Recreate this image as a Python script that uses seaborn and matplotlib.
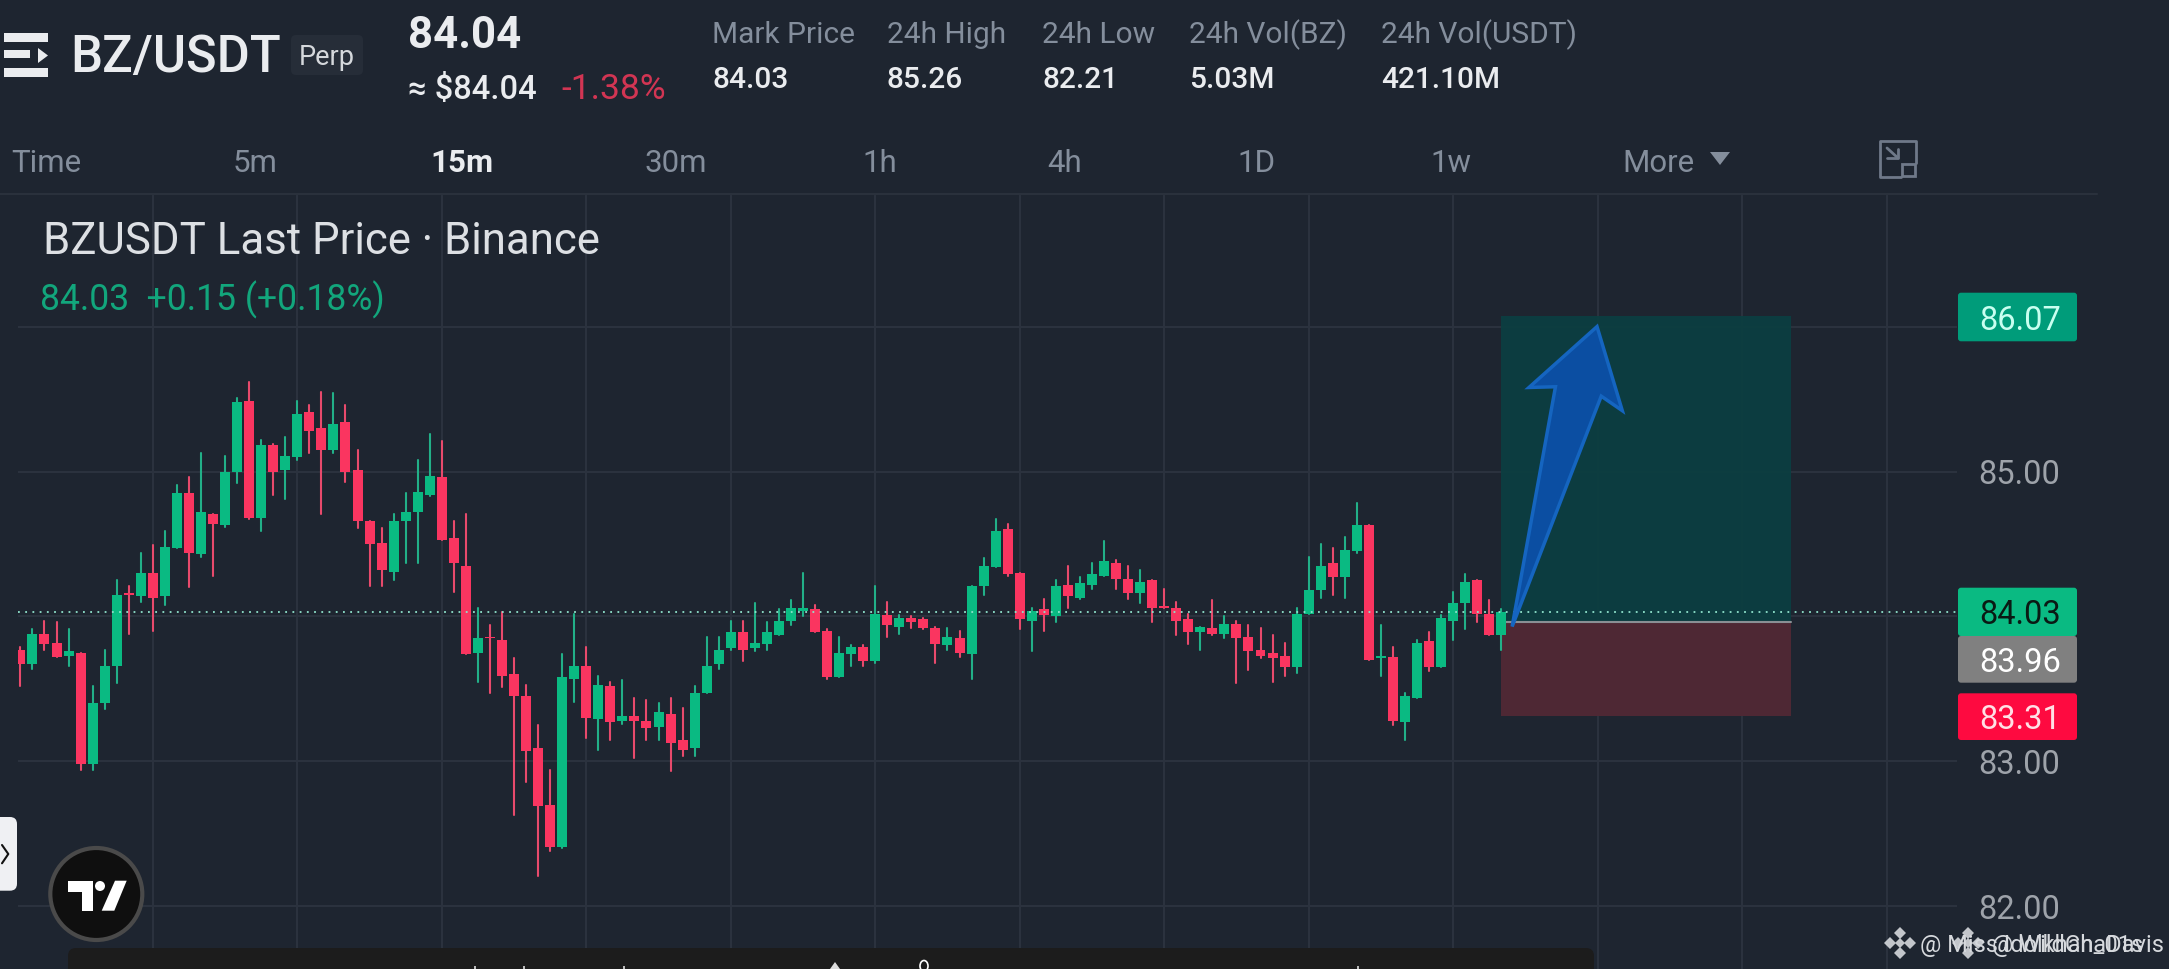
import numpy as np
import pandas as pd
import seaborn as sns
import matplotlib.pyplot as plt
from matplotlib.patches import Circle, Ellipse, FancyBboxPatch, Polygon, Rectangle

# Candle values
opens = [83.77, 83.67, 83.88, 83.82, 83.73, 83.75, 82.98, 83.40, 83.66, 84.16,
         84.14, 84.30, 84.14, 84.47, 84.85, 84.43, 84.71, 84.63, 85.00, 85.49,
         84.68, 85.18, 85.01, 85.10, 85.41, 85.30, 85.15, 85.34, 85.01, 84.66,
         84.51, 84.31, 84.66, 84.72, 84.84, 84.96, 84.54, 84.35, 83.75, 83.86,
         83.84, 83.60, 83.45, 83.09, 82.70, 82.41, 83.57, 83.66, 83.29, 83.52,
         83.28, 83.31, 83.28, 83.24, 83.33, 83.15, 83.09, 83.47, 83.67, 83.78,
         83.89, 83.78, 83.81, 83.87, 83.97, 84.04, 84.05, 83.90, 83.58, 83.74,
         83.79, 83.69, 84.01, 83.93, 83.99, 83.98, 83.92, 83.80, 83.85, 83.74,
         84.21, 84.34, 84.60, 84.30, 83.97, 84.05, 84.00, 84.22, 84.13, 84.22,
         84.28, 84.37, 84.26, 84.16, 84.25, 84.07, 84.06, 83.98, 83.89, 83.92,
         83.88, 83.95, 83.86, 83.77, 83.75, 83.73, 83.65, 84.02, 84.18, 84.37,
         84.27, 84.45, 84.63, 83.71, 83.72, 83.27, 83.44, 83.83, 83.65, 83.97,
         84.09, 84.25, 84.02, 83.87]
highs = [83.79, 83.91, 83.97, 83.96, 83.91, 83.75, 83.52, 83.77, 84.25, 84.21,
         84.44, 84.49, 84.59, 84.91, 84.96, 85.13, 84.71, 85.11, 85.51, 85.62,
         85.22, 85.19, 85.24, 85.49, 85.46, 85.55, 85.54, 85.46, 85.15, 84.66,
         84.61, 84.71, 84.85, 85.08, 85.26, 85.21, 84.66, 84.71, 84.06, 83.94,
         84.03, 83.71, 83.53, 83.25, 82.94, 83.74, 84.02, 83.79, 83.59, 83.55,
         83.56, 83.44, 83.42, 83.40, 83.44, 83.37, 83.52, 83.86, 83.86, 83.97,
         83.97, 84.09, 83.96, 84.05, 84.11, 84.30, 84.08, 83.91, 83.86, 83.80,
         83.80, 84.21, 84.10, 84.01, 84.00, 83.99, 83.93, 83.92, 83.90, 84.21,
         84.40, 84.67, 84.64, 84.30, 84.06, 84.12, 84.25, 84.35, 84.27, 84.37,
         84.52, 84.39, 84.35, 84.32, 84.25, 84.19, 84.10, 84.02, 83.93, 84.11,
         84.00, 83.97, 83.94, 83.92, 83.87, 83.82, 84.06, 84.41, 84.50, 84.47,
         84.55, 84.78, 84.63, 83.94, 83.79, 83.47, 83.84, 83.89, 84.01, 84.17,
         84.29, 84.25, 84.11, 84.05]
lows = [83.52, 83.64, 83.77, 83.72, 83.66, 82.94, 82.94, 83.36, 83.54, 83.88,
        84.10, 83.90, 84.08, 84.47, 84.20, 84.41, 84.28, 84.62, 84.92, 84.67,
        84.59, 84.84, 84.81, 85.08, 85.13, 84.71, 85.13, 84.93, 84.61, 84.21,
        84.21, 84.25, 84.37, 84.37, 84.83, 84.53, 84.17, 83.74, 83.55, 83.47,
        83.51, 82.63, 82.86, 82.21, 82.38, 82.40, 83.41, 83.16, 83.08, 83.15,
        83.26, 83.02, 83.15, 83.15, 82.93, 83.04, 83.04, 83.47, 83.64, 83.77,
        83.69, 83.76, 83.77, 83.87, 83.94, 84.00, 83.89, 83.57, 83.58, 83.66,
        83.66, 83.68, 83.86, 83.88, 83.92, 83.91, 83.68, 83.77, 83.72, 83.57,
        84.15, 84.34, 84.28, 83.91, 83.76, 83.90, 83.96, 84.06, 84.12, 84.19,
        84.28, 84.19, 84.12, 84.09, 83.96, 84.06, 83.87, 83.81, 83.77, 83.87,
        83.85, 83.54, 83.63, 83.71, 83.55, 83.59, 83.61, 84.02, 84.13, 84.15,
        84.13, 84.44, 83.70, 83.59, 83.25, 83.15, 83.44, 83.62, 83.65, 83.84,
        83.91, 83.96, 83.87, 83.77]
closes = [83.67, 83.88, 83.81, 83.72, 83.76, 82.98, 83.40, 83.66, 84.15, 84.15,
          84.30, 84.13, 84.48, 84.85, 84.44, 84.72, 84.64, 85.00, 85.48, 84.68,
          85.18, 85.00, 85.11, 85.40, 85.28, 85.15, 85.33, 85.00, 84.66, 84.50,
          84.32, 84.66, 84.72, 84.86, 84.97, 84.53, 84.37, 83.74, 83.85, 83.85,
          83.59, 83.45, 83.07, 82.69, 82.41, 83.58, 83.66, 83.30, 83.53, 83.27,
          83.31, 83.28, 83.23, 83.34, 83.13, 83.08, 83.47, 83.66, 83.77, 83.89,
          83.77, 83.82, 83.89, 83.97, 84.06, 84.06, 83.89, 83.58, 83.75, 83.79,
          83.69, 84.02, 83.94, 83.99, 83.96, 83.92, 83.81, 83.86, 83.75, 84.21,
          84.35, 84.59, 84.29, 83.98, 84.04, 84.01, 84.21, 84.14, 84.23, 84.29,
          84.38, 84.26, 84.16, 84.24, 84.06, 84.06, 83.97, 83.89, 83.93, 83.88,
          83.95, 83.85, 83.76, 83.73, 83.71, 83.65, 84.02, 84.18, 84.35, 84.27,
          84.46, 84.63, 83.70, 83.73, 83.28, 83.45, 83.82, 83.65, 83.99, 84.09,
          84.24, 84.02, 83.87, 84.03]

price_ticks = [82, 83, 84, 85, 86]
price_tick_labels = ['82.00', '83.00', '', '85.00', '']
time_ticks = [11, 23, 35, 47, 59, 71, 83, 95, 107, 119, 131, 143, 155]
last_price = 84.03

# Long position drawing
pos_left, pos_right = 122.95, 147.1
take_profit, entry, stop_loss = 86.07, 83.96, 83.31
arrow_x = [130.95, 133.05, 131.3, 123.9, 127.5, 125.3]
arrow_y = [86.0, 85.42, 85.52, 83.93, 85.585, 85.58]

# Header texts
stat_names = ['Mark Price', '24h High', '24h Low', '24h Vol(BZ)', '24h Vol(USDT)']
stat_values = ['84.03', '85.26', '82.21', '5.03M', '421.10M']
stat_x = [712, 887, 1042, 1189, 1381]
tab_names = ['5m', '15m', '30m', '1h', '4h', '1D', '1w']
tab_x = [255, 462, 676, 880, 1065, 1256, 1451]

BG = '#1E2530'
GRID = '#2C333F'
GREEN = '#0ABA82'
RED = '#FA3560'
MUTED = '#848E9C'
WHITE = '#EAECEF'

sns.set_theme(style='dark', rc={'axes.facecolor': BG, 'figure.facecolor': BG})
plt.rcParams['font.family'] = ['Roboto', 'DejaVu Sans']

fig = plt.figure(figsize=(21.69, 9.69), dpi=100)
W, H = 2169, 969

# Chart axes, placed so candles land on the same pixels as the screenshot
ax = fig.add_axes([18 / W, 0, (1957 - 18) / W, (969 - 193) / H])

df = pd.DataFrame({'i': np.arange(len(opens)), 'open': opens, 'high': highs,
                   'low': lows, 'close': closes})
df['body'] = (df['close'] - df['open']).abs()
df['base'] = df[['open', 'close']].min(axis=1)
df['up'] = df['close'] >= df['open']

for is_up, body_col, wick_col in [(True, GREEN, '#22B088'), (False, RED, '#E84A6C')]:
    part = df[df['up'] == is_up].sort_values('i')
    wicks = part.melt(id_vars='i', value_vars=['high', 'low'], value_name='price')
    sns.lineplot(data=wicks, x='i', y='price', units='i', estimator=None, sort=False,
                 color=wick_col, linewidth=1.5, legend=False, zorder=3, ax=ax)
    sns.barplot(data=part, x='i', y='body', bottom=part['base'].values, native_scale=True,
                color=body_col, saturation=1, width=0.83, errorbar=None, linewidth=0,
                zorder=4, ax=ax)

ax.set_xlim(-0.2, 160.85)
ax.set_ylim(81.567, 86.922)

# Position box and arrow
ax.add_patch(Rectangle((pos_left, entry), pos_right - pos_left, take_profit - entry,
                       facecolor='#0C3E41', edgecolor='none', zorder=2, alpha=0.95))
ax.add_patch(Rectangle((pos_left, stop_loss), pos_right - pos_left, entry - stop_loss,
                       facecolor='#4E2834', edgecolor='none', zorder=2))
ax.plot([pos_left, pos_right], [entry, entry], color='#8A8F94', lw=1.5, zorder=2.5)
ax.add_patch(Polygon(np.column_stack([arrow_x, arrow_y]), closed=True, facecolor='#0B4EA2',
                     edgecolor='#1565C0', lw=2.5, joinstyle='miter', zorder=6))

# Last price line
ax.axhline(last_price, color='#8FE3CC', lw=1.3, ls=(0, (1, 3)), zorder=5)

ax.set_xticks(time_ticks)
ax.set_xticklabels([])
ax.set_yticks(price_ticks)
ax.set_yticklabels(price_tick_labels)
ax.yaxis.tick_right()
ax.tick_params(axis='y', length=0, pad=15.5, labelsize=23.5, labelcolor='#9EA3AA')
ax.tick_params(axis='x', length=0)
ax.grid(True, color=GRID, lw=1.4, zorder=0)
ax.set_axisbelow(True)
ax.set_xlabel('')
ax.set_ylabel('')
sns.despine(ax=ax, left=True, bottom=True, right=True, top=True)

# Everything around the chart is drawn on a pixel overlay
ui = fig.add_axes([0, 0, 1, 1], zorder=10)
ui.set_xlim(0, W)
ui.set_ylim(H, 0)
ui.axis('off')


def label(x, y, s, size, color, weight='normal', ha='left'):
    ui.text(x, y, s, fontsize=size, color=color, fontweight=weight, ha=ha, va='baseline')


def rounded(x0, y0, x1, y1, color, r=4):
    ui.add_patch(FancyBboxPatch((x0, y0), x1 - x0, y1 - y0, boxstyle=f'round,pad=0,rounding_size={r}',
                                facecolor=color, edgecolor='none'))


ui.plot([0, 2097], [193.5, 193.5], color='#2A313C', lw=1.5)

# Menu icon
for y0, y1, x1 in [(33, 42, 48), (50, 58, 30), (68, 77, 48)]:
    ui.add_patch(Rectangle((4, y0), x1 - 4, y1 - y0, color=WHITE, lw=0))
ui.add_patch(Polygon([(38, 48), (48, 55.5), (38, 63)], color=WHITE, lw=0))

label(70, 72, 'BZ/USDT', 36.5, WHITE, 'medium')
rounded(291, 35, 363, 75, '#262D38', 5)
label(299, 65, 'Perp', 19.5, '#D5D8DC')
label(408, 48, '84.04', 31.5, WHITE, 'bold')
label(408, 99, '≈ $84.04', 23.5, WHITE, 'medium')
label(561, 99, '-1.38%', 25.5, '#D23553')

for name, value, x in zip(stat_names, stat_values, stat_x):
    label(x, 43, name, 21.5, MUTED)
    label(x, 87.5, value, 21.5, WHITE, 'medium')

# Interval tabs
label(11, 171.5, 'Time', 22.5, MUTED)
for name, x in zip(tab_names, tab_x):
    if name == '15m':
        label(x, 171.5, name, 22.5, WHITE, 'bold', ha='center')
    else:
        label(x, 171.5, name, 22.5, MUTED, ha='center')
label(1622, 171.5, 'More', 22.5, MUTED)
ui.add_patch(Polygon([(1710, 152), (1730, 152), (1720, 165)], color=MUTED, lw=0))

# Layout icon
ui.plot([1901, 1880, 1880, 1916, 1916], [177, 177, 141, 141, 163], color='#6F7989', lw=2)
ui.add_patch(Rectangle((1902, 164), 13, 12, facecolor='none', edgecolor='#6F7989', lw=2))
ui.plot([1887, 1898], [148, 158], color='#6F7989', lw=2)
ui.plot([1887, 1898, 1898], [158, 158, 149], color='#6F7989', lw=2)

label(43, 254, 'BZUSDT Last Price · Binance', 31.5, '#DDE0E4')
label(40, 310, '84.03  +0.15 (+0.18%)', 25.6, '#12A67C')

# Price badges
badges = [(292.7, 341.3, '#009C7A', '86.07', '#C8FFF0'),
          (587.7, 636, '#0ABA82', '84.03', '#0A1A14'),
          (636, 682.7, '#808080', '83.96', '#FFFFFF'),
          (693.3, 740, '#FE0A40', '83.31', '#FFE0E5')]
for y0, y1, col, txt, txt_col in badges:
    rounded(1958, y0, 2077, y1, col, 3)
    ui.text(2020, (y0 + y1) / 2, txt, fontsize=23.5, color=txt_col, ha='center', va='center_baseline')

# Side tab and TradingView logo
rounded(-10, 817, 17, 890.7, '#EFF0F3', 7)
ui.plot([2, 8.3, 2], [845, 854, 863.3], color='#111111', lw=1.5)
ui.add_patch(Circle((96.3, 894), 46, facecolor='#0F0F0F', edgecolor='#4A4A4A', lw=3))
ui.add_patch(Polygon([(67.7, 880.7), (93.3, 880.7), (93.3, 910.7), (81.7, 910.7), (81.7, 891.7), (67.7, 891.7)],
                     color='white', lw=0))
ui.add_patch(Circle((100, 886), 5, color='white', lw=0))
ui.add_patch(Polygon([(115, 880.7), (126.7, 880.7), (114.3, 910.7), (101.7, 910.7)], color='white', lw=0))

# Dark bar cut off by the bottom edge
rounded(68, 948, 1594, 985, '#1C1C1C', 8)
ui.add_patch(Ellipse((924, 966), 8, 11, facecolor='none', edgecolor='white', lw=1.2))
ui.add_patch(Polygon([(830, 969), (835, 962), (840, 969)], color='#DDDDDD', lw=0))
for x in [475, 524, 624, 1358]:
    ui.add_patch(Rectangle((x - 1, 966), 2, 3, color='#BBBBBB', lw=0))

# Two watermarks stacked on each other
for cx in [1900, 1968]:
    for dx, dy, size in [(0, 0, 5), (0, -10, 6), (0, 10, 6), (-10, 0, 6), (10, 0, 6)]:
        ui.plot(cx + dx, 943 + dy, marker='D', ms=size, color='#D6D9DD', mew=0, alpha=0.9)
label(1920, 952, '@ Miss Idolkhan_01s', 17, '#D6D9DD')
label(1992, 952, '@ WildChaDavis', 17, '#D6D9DD')

fig.savefig('out.png', dpi=100)
